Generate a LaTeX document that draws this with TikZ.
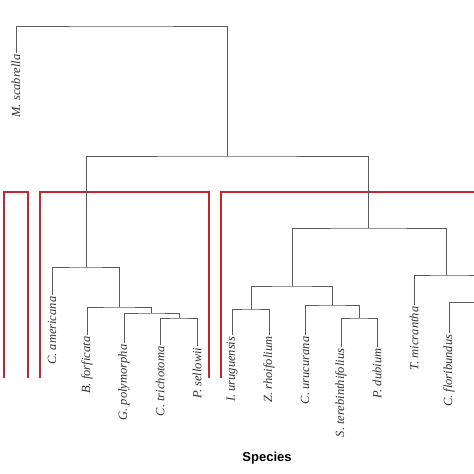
\documentclass[tikz,border=0pt]{standalone}
\usepackage{fontspec}
\setmainfont{Liberation Serif}
\setsansfont{Liberation Sans}
\usepackage{xcolor}
\usepackage{tikz}
\definecolor{TreeGray}{HTML}{5A5A5A}
\definecolor{GroupRed}{HTML}{C3262C}
\definecolor{LabelInk}{HTML}{333333}

\begin{document}
\begin{tikzpicture}[x=1pt, y=-1pt, every node/.style={font=\fontsize{12.5}{14}\selectfont\itshape}]

    \tikzstyle{leaf}=[
      rotate=90,
      anchor=east,
      inner sep=1.5pt,
      text=LabelInk
    ]
    \tikzstyle{branch}=[draw=TreeGray, line width=0.8pt]
    \tikzstyle{group}=[draw=GroupRed, line width=1.6pt]

    \useasboundingbox (0,0) rectangle (474,474);
    \clip (0,0) rectangle (474,474);

    % --- Leaves ---
    \node[leaf] (msc) at (16,53) {M. scabrella};
    \node[leaf] (cam) at (52,295) {C. americana};
    \node[leaf] (bfo) at (87,335) {B. forficata};
    \node[leaf] (gpo) at (124,343) {G. polymorpha};
    \node[leaf] (ctr) at (160,345) {C. trichotoma};
    \node[leaf] (pse) at (197,346) {P. sellowii};
    \node[leaf] (iur) at (232,335) {I. uruguensis};
    \node[leaf] (zrh) at (269,335) {Z. rhoifolium};
    \node[leaf] (cur) at (305,335) {C. urucurana};
    \node[leaf] (ste) at (341,347) {S. terebinthifolius};
    \node[leaf] (pdu) at (377,347) {P. dubium};
    \node[leaf] (tmi) at (414,305) {T. micrantha};
    \node[leaf] (cfl) at (449,333) {C. floribundus};

    % --- Junctions ---
    \coordinate (root) at (121,26);
    \coordinate (n1) at (227,156);
    \coordinate (a) at (86,267);
    \coordinate (a2) at (119,307);
    \coordinate (a3) at (151,313);
    \coordinate (a4) at (179,318);
    \coordinate (b) at (368,228);
    \coordinate (b1) at (292,286);
    \coordinate (b11) at (251,309);
    \coordinate (b12) at (332,305);
    \coordinate (b13) at (359,318);
    \coordinate (b2) at (446,275);
    \coordinate (b21) at (492,302);

    % --- Groups ---
    \draw[group] (4,378) |- (28,192) -- (28,378);
    \draw[group] (40,378) |- (209,192) -- (209,378);
    \draw[group] (221,378) |- (480,192);

    % --- Tree ---
    \draw[branch] (msc.east) |- (root) -| (n1);
    \draw[branch] (a) |- (n1) -| (b);
    \draw[branch] (cam.east) |- (a) -| (a2);
    \draw[branch] (bfo.east) |- (a2) -| (a3);
    \draw[branch] (gpo.east) |- (a3) -| (a4);
    \draw[branch] (ctr.east) |- (a4) -| (pse.east);
    \draw[branch] (b1) |- (b) -| (b2);
    \draw[branch] (b11) |- (b1) -| (b12);
    \draw[branch] (iur.east) |- (b11) -| (zrh.east);
    \draw[branch] (cur.east) |- (b12) -| (b13);
    \draw[branch] (ste.east) |- (b13) -| (pdu.east);
    \draw[branch] (tmi.east) |- (b2) -| (b21);
    \draw[branch] (cfl.east) |- (b21);

    % --- Axis title ---
    \node[font=\fontsize{13}{15}\selectfont\sffamily\bfseries] (axis) at (267,458) {Species};

  \end{tikzpicture}
\end{document}
